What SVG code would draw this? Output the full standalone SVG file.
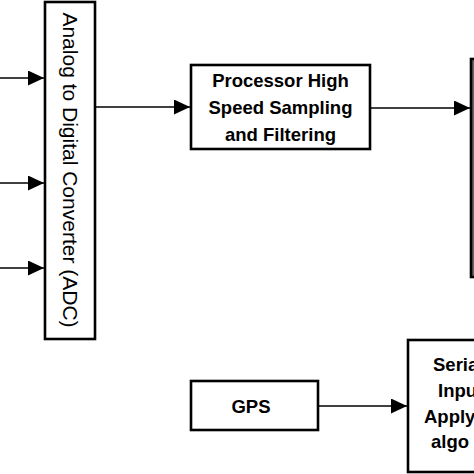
<svg xmlns="http://www.w3.org/2000/svg" width="474" height="474" viewBox="0 0 474 474">
<style>
.box{fill:#fff;stroke:#000;stroke-width:2.6}
.wire{fill:none;stroke:#000;stroke-width:1.4}
.lbl{font-family:"Liberation Sans",Arial,sans-serif;font-weight:bold;font-size:18.5px;fill:#000}
.adc{font-family:"Liberation Sans",Arial,sans-serif;font-size:21px;fill:#000}
</style>
<defs>
<marker id="ah" markerUnits="userSpaceOnUse" markerWidth="17" markerHeight="15" refX="16" refY="7.5" orient="auto">
<path d="M0,0 L16,7.5 L0,15 z" fill="#000"/>
</marker>
</defs>
<rect width="474" height="474" fill="#fff"/>
<g id="connectors">
<line class="wire" x1="0" y1="78" x2="44" y2="78" marker-end="url(#ah)"/>
<line class="wire" x1="0" y1="183" x2="44" y2="183" marker-end="url(#ah)"/>
<line class="wire" x1="0" y1="268" x2="44" y2="268" marker-end="url(#ah)"/>
<line class="wire" x1="96" y1="107" x2="190" y2="107" marker-end="url(#ah)"/>
<line class="wire" x1="371" y1="108" x2="470" y2="108" marker-end="url(#ah)"/>
<line class="wire" x1="319" y1="406" x2="407" y2="406" marker-end="url(#ah)"/>
</g>
<g id="adc">
<rect class="box" x="45" y="2" width="50" height="337"/>
<text class="adc" transform="translate(63,170) rotate(90)" text-anchor="middle">Analog to Digital Converter (ADC)</text>
</g>
<g id="processor">
<rect class="box" x="191" y="65" width="179" height="84"/>
<text class="lbl" x="280.5" y="87" text-anchor="middle">Processor High</text>
<text class="lbl" x="280.5" y="114" text-anchor="middle">Speed Sampling</text>
<text class="lbl" x="280.5" y="141" text-anchor="middle">and Filtering</text>
</g>
<g id="right-box">
<rect x="471" y="59" width="20" height="218" fill="#666" stroke="#000" stroke-width="2.6"/>
</g>
<g id="gps">
<rect class="box" x="191" y="381" width="127" height="49"/>
<text class="lbl" x="251" y="413" text-anchor="middle">GPS</text>
</g>
<g id="serial">
<rect class="box" x="408" y="340" width="80" height="132"/>
<text class="lbl" x="433" y="371">Seria</text>
<text class="lbl" x="438" y="397">Inpu</text>
<text class="lbl" x="424" y="423">Apply</text>
<text class="lbl" x="431" y="448">algo</text>
</g>
</svg>
